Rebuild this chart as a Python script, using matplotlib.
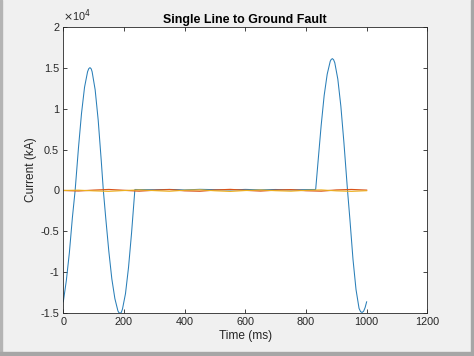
import matplotlib
matplotlib.use("Agg")
import matplotlib.pyplot as plt
from matplotlib.patches import Rectangle
from matplotlib.ticker import FuncFormatter

plt.rcParams['font.family'] = ['Liberation Sans', 'DejaVu Sans']

# phase A current (A)
t_a = [0, 10, 20, 30, 39, 50, 60, 70, 80, 84, 88, 92, 95, 105, 115, 125, 132,
       140, 150, 160, 170, 180, 183, 187, 191, 195, 205, 215, 225, 236,
       300, 350, 400, 450, 500, 550, 600, 650, 700, 750, 800, 832,
       840, 850, 860, 870, 880, 883, 887, 891, 895, 905, 915, 925, 937,
       945, 955, 965, 975, 980, 985, 990, 995, 1000]
i_a = [-13600, -11000, -7600, -3300, 0, 5200, 9400, 12600, 14500, 14880, 15000, 14850, 14500, 12300, 8600, 3700, 0,
       -3400, -7400, -10800, -13200, -14700, -14900, -15000, -14900, -14500, -12600, -9400, -5200, 120,
       90, 130, 70, 140, 100, 60, 130, 80, 120, 70, 110, 120,
       3600, 7900, 11600, 14200, 15780, 15990, 16100, 15970, 15600, 13600, 10300, 5900, 0,
       -3600, -8400, -12100, -14400, -14800, -14900, -14750, -14300, -13600]

# phase B and C currents stay near zero
t_bc = [0, 50, 100, 150, 200, 250, 300, 350, 400, 450, 500, 550, 600, 650, 700, 750, 800, 850, 900, 950, 1000]
i_b = [0, -60, 40, 120, 20, -80, 30, 110, -40, -90, 50, 130, 20, -70, 40, 100, -30, -80, 60, 120, 40]
i_c = [0, 40, -50, -110, -10, 70, -20, -100, 30, 80, -40, -120, -10, 60, -30, -90, 20, 70, -50, -110, -30]

x_ticks = [0, 200, 400, 600, 800, 1000, 1200]
y_ticks = [-15000, -10000, -5000, 0, 5000, 10000, 15000, 20000]

fig = plt.figure(figsize=(4.74, 3.56), dpi=100)
fig.patch.set_facecolor('#f0f0f0')

# window frame strips
fig.patches.append(Rectangle((0, 0), 2 / 474, 1, transform=fig.transFigure, color='#b4b4b4', zorder=0))
fig.patches.append(Rectangle((470.5 / 474, 0), 3.5 / 474, 1, transform=fig.transFigure, color='#a6a6a6', zorder=0))
fig.patches.append(Rectangle((0, 1 / 356), 1, 3.5 / 356, transform=fig.transFigure, color='#a6a6a6', zorder=0))

ax = fig.add_axes([63.3 / 474, 42.7 / 356, 364 / 474, 286.6 / 356])
ax.set_facecolor('white')

ax.plot(t_a, i_a, color='#2a7fb8', lw=0.75)
ax.plot(t_bc, i_b, color='#D95319', lw=0.9)
ax.plot(t_bc, i_c, color='#EDB120', lw=0.8)

ax.set_xlim(0, 1200)
ax.set_ylim(-15000, 20000)
ax.set_xticks(x_ticks)
ax.set_yticks(y_ticks)
ax.yaxis.set_major_formatter(FuncFormatter(lambda v, p: '%g' % (v / 1e4)))

ax.tick_params(direction='in', length=3, width=0.6, top=True, right=True,
               labelsize=7.8, colors='#262626', pad=3)
for s in ax.spines.values():
    s.set_color('#262626')
    s.set_linewidth(0.6)

ax.text(0, 1.008, r'$\times$10$^{4}$', transform=ax.transAxes, fontsize=7.8,
        color='#262626', ha='left', va='bottom')
ax.set_title('Single Line to Ground Fault', fontsize=8.9, fontweight='bold', color='black', pad=3)
ax.set_xlabel('Time (ms)', fontsize=8.6, color='#262626', labelpad=2)
ax.set_ylabel('Current (kA)', fontsize=8.6, color='#262626', labelpad=2)

fig.savefig('out.png', dpi=100, facecolor=fig.get_facecolor())
